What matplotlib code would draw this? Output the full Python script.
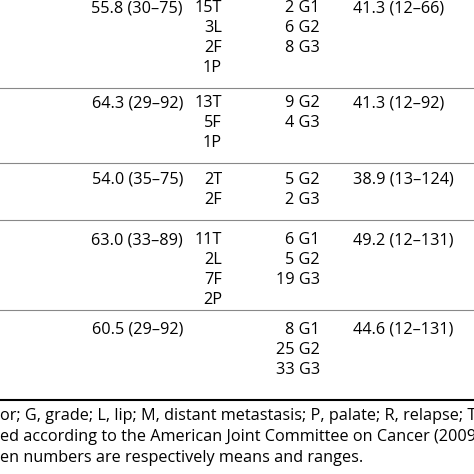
import matplotlib.pyplot as plt

plt.rcParams['font.family'] = ['Open Sans', 'DejaVu Sans']

ages = ['55.8 (30–75)', '64.3 (29–92)', '54.0 (35–75)', '63.0 (33–89)', '60.5 (29–92)']
sites = [['15T', '3L', '2F', '1P'], ['13T', '5F', '1P'], ['2T', '2F'],
         ['11T', '2L', '7F', '2P'], []]
grades = [['2 G1', '6 G2', '8 G3'], ['9 G2', '4 G3'], ['5 G2', '2 G3'],
          ['6 G1', '5 G2', '19 G3'], ['8 G1', '25 G2', '33 G3']]
follow = ['41.3 (12–66)', '41.3 (12–92)', '38.9 (13–124)', '49.2 (12–131)', '44.6 (12–131)']
notes = ['or; G, grade; L, lip; M, distant metastasis; P, palate; R, relapse; T,',
         'ed according to the American Joint Committee on Cancer (2009).',
         'en numbers are respectively means and ranges.']

row_top = [8, 103, 180, 240, 330]
lines = [88, 163, 220, 310]
step = 20

fig = plt.figure(figsize=(4.74, 4.74), dpi=100)
ax = fig.add_axes([0, 0, 1, 1])
ax.set_xlim(0, 474)
ax.set_ylim(474, 0)
ax.axis('off')

fs = 11.7
for i, y0 in enumerate(row_top):
    ax.text(183, y0, ages[i], ha='right', va='center', fontsize=fs)
    for j, s in enumerate(sites[i]):
        ax.text(222, y0 + j * step, s, ha='right', va='center', fontsize=fs)
    for j, g in enumerate(grades[i]):
        ax.text(320, y0 + j * step, g, ha='right', va='center', fontsize=fs)
    ax.text(353, y0, follow[i], ha='left', va='center', fontsize=fs)

for y in lines:
    ax.axhline(y, color='#888888', lw=0.8)
ax.axhline(400, color='black', lw=1.5)

for j, n in enumerate(notes):
    ax.text(0, 416 + j * 21, n, ha='left', va='center', fontsize=fs)

fig.savefig('out.png', dpi=100)
